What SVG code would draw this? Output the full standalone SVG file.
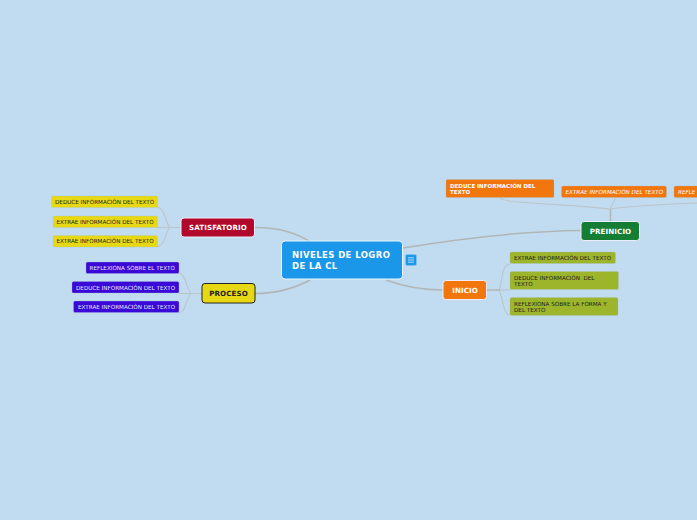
<svg xmlns="http://www.w3.org/2000/svg" width="697" height="520" viewBox="0 0 697 520">
<defs><style>
text{font-family:"DejaVu Sans",sans-serif;}
.m{fill:none;stroke:#b2b5b6;stroke-width:1.5}
.s{fill:none;stroke:#bcc5cb;stroke-width:1.1}
.t{font-weight:bold;font-size:7.1px;text-anchor:middle;letter-spacing:.1px}
.l{font-size:5.64px}
.b{font-size:5.5px;font-weight:bold}
.r{font-weight:bold;font-size:8.5px;letter-spacing:.4px}
.k{fill:#222}
.w{fill:#fff}
.sh{stroke:#a9bfce;stroke-width:.5;stroke-opacity:.6}
</style></defs>
<rect width="697" height="520" fill="#c1dcf0"/>
<g id="connectors">
<path class="m" d="M255 227.500C280 227.500 295 233 309 241"/>
<path class="m" d="M255 293.500C280 293.500 297 287 310 280"/>
<path class="m" d="M403 248C470 237 530 231 581 230.500"/>
<path class="m" d="M386 280C405 287 425 290 443 290"/>
<path class="s" d="M157 207C165 208 165 222 170 227.500H181"/>
<path class="s" d="M157 227.500H181"/>
<path class="s" d="M157 247C165 246 165 233 170 227.500"/>
<path class="s" d="M179 273C186 274 186 288 191 293.500H202"/>
<path class="s" d="M179 293.500H202"/>
<path class="s" d="M179 313C186 312 186 299 191 293.500"/>
<path class="s" d="M500 198C505 204 560 203 610 209"/>
<path class="s" d="M615 198C615 202 611 204 610.500 209"/>
<path class="s" d="M697 203C670 204 630 206 610.500 209"/>
<path class="m" d="M610.500 209V221"/>
<path class="s" d="M510 264C500 265 503 284 499 290"/>
<path class="s" d="M500 290H510"/>
<path class="s" d="M510 315C503 314 503 298 499 290"/>
<path class="m" d="M487 290H500"/>
</g>
<g id="root"><rect x="281.500" y="241" width="121" height="38" rx="3.500" fill="#1a97e8" stroke="#e8f4fc" stroke-width="1"/>
<text x="292" y="258" class="r w">NIVELES DE LOGRO</text>
<text x="292" y="269" class="r w">DE LA CL</text></g>
<g id="note-icon"><rect x="405.500" y="254.500" width="11" height="11" rx="1.500" fill="#1a97e8" stroke="#8cc6ec" stroke-width=".6"/>
<path d="M408 257.800H414M408 260H414M408 262.200H414" stroke="#d9effc" stroke-width=".8"/></g>
<g id="satisfatorio"><rect x="181" y="218" width="73.500" height="19" rx="3" fill="#b0092b" stroke="#eef" stroke-width="1"/><text x="218" y="230" class="t w">SATISFATORIO</text></g>
<g id="proceso"><rect x="202" y="283.500" width="53" height="19.500" rx="3" fill="#e6d914" stroke="#222" stroke-width="1"/><text x="228.500" y="296" class="t k">PROCESO</text></g>
<g id="preinicio"><rect x="581" y="221.500" width="58.500" height="19" rx="3" fill="#167e34" stroke="#eef" stroke-width="1"/><text x="610.500" y="234" class="t w">PREINICIO</text></g>
<g id="inicio"><rect x="443" y="280.500" width="43.500" height="19" rx="3" fill="#f0760d" stroke="#eef" stroke-width="1"/><text x="465" y="293" class="t w">INICIO</text></g>
<g id="s1"><rect class="sh" x="51.500" y="196" width="106" height="11.500" rx="1.500" fill="#e6d914"/><text x="55" y="203.800" class="l k">DEDUCE INFORMACIÓN DEL TEXTO</text></g>
<g id="s2"><rect class="sh" x="53" y="216" width="104.500" height="11.500" rx="1.500" fill="#e6d914"/><text x="56.500" y="223.800" class="l k">EXTRAE INFORMACIÓN DEL TEXTO</text></g>
<g id="s3"><rect class="sh" x="53" y="235.500" width="104.500" height="11.500" rx="1.500" fill="#e6d914"/><text x="56.500" y="243" class="l k">EXTRAE INFORMACIÓN DEL TEXTO</text></g>
<g id="p1"><rect class="sh" x="86" y="262" width="93" height="11.500" rx="1.500" fill="#3a09d8"/><text x="89.500" y="269.800" class="l" fill="#e8e8ff">REFLEXIONA SOBRE EL TEXTO</text></g>
<g id="p2"><rect class="sh" x="72" y="281.500" width="107" height="11.500" rx="1.500" fill="#3a09d8"/><text x="76" y="289.500" class="l" fill="#e8e8ff">DEDUCE INFORMACIÓN DEL TEXTO</text></g>
<g id="p3"><rect class="sh" x="73.500" y="301" width="105.500" height="11.500" rx="1.500" fill="#3a09d8"/><text x="78" y="308.800" class="l" fill="#e8e8ff">EXTRAE INFORMACIÓN DEL TEXTO</text></g>
<g id="pre1"><rect class="sh" x="446" y="179.500" width="108" height="18" rx="1.500" fill="#f0760d"/><text x="450" y="188" class="b w">DEDUCE INFORMACIÓN DEL</text><text x="450" y="194" class="b w">TEXTO</text></g>
<g id="pre2"><rect class="sh" x="561.500" y="186" width="105" height="11.500" rx="1.500" fill="#f0760d"/><text x="565.500" y="193.800" class="l w" font-style="italic">EXTRAE INFORMACIÓN DEL TEXTO</text></g>
<g id="pre3"><rect class="sh" x="674" y="186" width="40" height="11.500" rx="1.500" fill="#f0760d"/><text x="678" y="193.800" class="l w" font-style="italic">REFLE</text></g>
<g id="i1"><rect class="sh" x="510" y="252" width="105.500" height="11.500" rx="1.500" fill="#9cb52b"/><text x="514" y="259.800" class="l k">EXTRAE INFORMACIÓN DEL TEXTO</text></g>
<g id="i2"><rect class="sh" x="510" y="271.500" width="108.500" height="18" rx="1.500" fill="#9cb52b"/><text x="514" y="280" class="l k" xml:space="preserve">DEDUCE INFORMACIÓN  DEL</text><text x="514" y="286" class="l k">TEXTO</text></g>
<g id="i3"><rect class="sh" x="510" y="297.500" width="108" height="18" rx="1.500" fill="#9cb52b"/><text x="514" y="305.500" class="l k">REFLEXIONA SOBRE LA FORMA Y</text><text x="514" y="312" class="l k">DEL TEXTO</text></g>
</svg>
